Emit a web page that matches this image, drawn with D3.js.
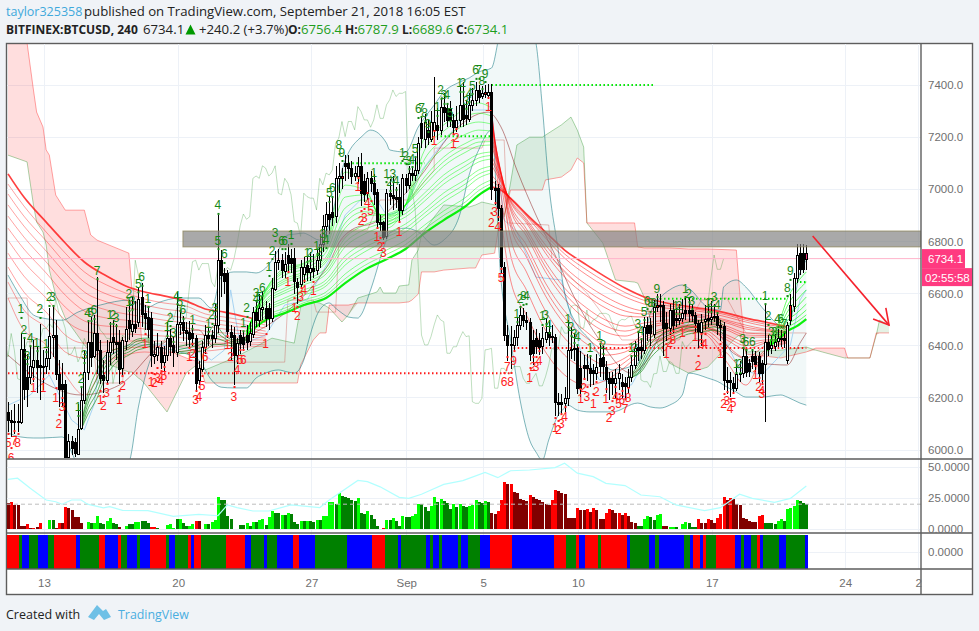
<!DOCTYPE html>
<html>
<head>
<meta charset="utf-8">
<script src="https://d3js.org/d3.v7.min.js"></script>
<style>
  html, body { margin: 0; padding: 0; background: #f0f3f7; }
  text { font-family: "Liberation Sans", Arial, sans-serif; }
  .head text { font-family: "Open Sans", "Noto Sans", sans-serif; font-size: 13.2px; fill: #222; }
  .axis text { font-size: 11.5px; fill: #6f6f6f; }
  .axis path, .axis line { display: none; }
</style>
</head>
<body>
<div id="my_dataviz"></div>
<script>

// candles, one row per 10 bars (4h bars)
var opens = [
  6146,6115,6113,6110,6108,6389,6281,6281,6322,6347,
  6325,6324,6319,6351,6437,6443,6293,6255,6255,5974,
  6035,6031,5987,6082,6191,6300,6415,6357,6447,6383,
  6287,6270,6377,6434,6415,6415,6313,6421,6498,6460,
  6485,6492,6588,6524,6511,6505,6364,6364,6396,6338,
  6364,6428,6402,6377,6485,6492,6460,6453,6447,6428,
  6268,6313,6396,6441,6441,6428,6479,6728,6680,6677,
  6453,6441,6364,6441,6434,6441,6415,6447,6530,6498,
  6543,6543,6543,6505,6620,6722,6728,6690,6747,6735,
  6735,6645,6639,6677,6709,6683,6700,6690,6730,6790,
  6860,6905,6914,6895,7042,7051,7100,7100,7081,7051,
  7051,7090,7030,6985,7042,7023,6991,6876,6876,6819,
  6985,6979,6972,6972,6921,7042,7017,7062,7055,7074,
  7253,7196,7228,7196,7228,7247,7228,7317,7311,7311,
  7266,7238,7266,7324,7285,7272,7324,7343,7381,7356,
  7375,7362,7375,7004,7004,6927,6703,6441,6408,6403,
  6435,6480,6518,6499,6492,6422,6428,6422,6396,6428,
  6454,6435,6435,6185,6185,6179,6198,6384,6386,6390,
  6313,6326,6326,6313,6307,6296,6352,6356,6320,6275,
  6275,6256,6275,6262,6256,6243,6281,6326,6396,6396,
  6386,6480,6480,6448,6550,6556,6556,6486,6467,6537,
  6505,6499,6505,6537,6537,6537,6518,6486,6454,6492,
  6505,6501,6509,6514,6480,6476,6269,6269,6258,6240,
  6292,6294,6361,6332,6361,6361,6361,6332,6332,6416,
  6390,6399,6416,6428,6428,6344,6499,6550,6658,6754,
  6754,6756.4];
var highs = [
  6185,6153,6178,6178,6447,6434,6370,6396,6421,6396,
  6485,6383,6389,6543,6549,6498,6345,6332,6268,6060,
  6055,6045,6178,6243,6383,6498,6511,6517,6664,6421,
  6345,6421,6492,6498,6485,6460,6434,6549,6575,6588,
  6570,6626,6639,6556,6550,6530,6420,6450,6420,6400,
  6490,6465,6434,6607,6530,6515,6490,6495,6480,6441,
  6340,6420,6480,6470,6460,6560,6901,6767,6700,6690,
  6480,6470,6430,6460,6455,6480,6490,6550,6570,6600,
  6610,6570,6565,6660,6765,6770,6750,6760,6790,6770,
  6775,6660,6730,6740,6745,6760,6750,6770,6830,6900,
  6950,6970,6970,7090,7100,7081,7130,7130,7110,7090,
  7125,7138,7060,7065,7070,7060,7000,6900,6880,7000,
  7040,7050,7010,7020,7060,7060,7090,7085,7120,7200,
  7280,7290,7265,7300,7432,7310,7350,7370,7330,7340,
  7290,7320,7400,7410,7340,7370,7390,7410,7400,7395,
  7400,7405,7405,7030,7020,6940,6720,6480,6475,6460,
  6510,6545,6545,6530,6505,6460,6465,6450,6470,6505,
  6500,6480,6445,6220,6215,6240,6500,6470,6450,6400,
  6380,6365,6370,6355,6330,6370,6410,6400,6340,6300,
  6300,6310,6330,6290,6280,6310,6360,6420,6450,6430,
  6510,6510,6505,6575,6600,6600,6570,6530,6560,6575,
  6545,6560,6580,6590,6585,6560,6530,6500,6520,6555,
  6560,6570,6560,6530,6500,6490,6320,6300,6280,6330,
  6340,6390,6380,6350,6385,6380,6375,6345,6555,6440,
  6440,6445,6465,6460,6455,6490,6600,6680,6790,6790,
  6790,6787.9];
var lows = [
  6070,6051,6063,6070,6101,6191,6165,6255,6262,6217,
  6191,6230,6293,6306,6357,6268,6165,6165,5968,5968,
  5980,5975,5980,6075,6178,6268,6319,6351,6293,6255,
  6217,6255,6325,6370,6345,6255,6281,6383,6421,6434,
  6450,6472,6472,6460,6430,6319,6330,6340,6310,6300,
  6340,6360,6319,6357,6440,6420,6400,6390,6400,6223,
  6250,6300,6370,6400,6390,6410,6447,6587,6600,6430,
  6340,6249,6330,6370,6380,6385,6400,6430,6470,6470,
  6500,6470,6460,6490,6610,6690,6660,6660,6680,6680,
  6600,6560,6620,6640,6650,6650,6660,6670,6700,6760,
  6820,6830,6860,6870,6985,7000,7030,7040,7020,7030,
  7020,6935,6950,6960,6990,6940,6850,6840,6805,6810,
  6940,6920,6930,6880,6900,6985,7000,7030,7030,7060,
  7160,7160,7170,7180,7200,7190,7210,7260,7240,7240,
  7210,7220,7240,7240,7245,7260,7300,7320,7330,7345,
  7350,7345,6960,6940,6880,6680,6420,6340,6310,6380,
  6400,6460,6470,6460,6340,6325,6370,6365,6370,6410,
  6400,6410,6130,6130,6135,6145,6170,6350,6340,6215,
  6205,6270,6265,6240,6250,6270,6280,6270,6220,6190,
  6210,6200,6230,6200,6190,6220,6260,6310,6340,6350,
  6370,6420,6400,6430,6530,6490,6360,6420,6440,6450,
  6470,6480,6490,6500,6490,6490,6450,6390,6400,6460,
  6470,6480,6490,6440,6420,6230,6215,6205,6215,6225,
  6260,6275,6280,6280,6310,6300,6260,6250,6108,6360,
  6370,6380,6395,6395,6390,6330,6480,6530,6640,6670,
  6680,6689.6];
var closes = [
  6115,6108,6108,6107,6389,6236,6236,6322,6347,6322,
  6319,6319,6351,6437,6443,6293,6236,6236,5974,6035,
  6010,5987,6082,6191,6300,6415,6357,6447,6383,6274,
  6268,6377,6415,6415,6409,6313,6421,6466,6466,6485,
  6470,6581,6524,6505,6466,6364,6370,6396,6338,6364,
  6428,6396,6377,6485,6492,6460,6447,6428,6428,6255,
  6313,6396,6441,6428,6428,6479,6728,6671,6650,6453,
  6434,6364,6409,6409,6409,6415,6447,6530,6498,6543,
  6549,6505,6505,6620,6722,6728,6690,6715,6715,6715,
  6645,6626,6703,6703,6683,6700,6690,6730,6790,6860,
  6905,6885,6895,7042,7051,7042,7090,7081,7051,7062,
  7090,6985,6979,7042,7023,6979,6876,6870,6819,6985,
  6972,6966,6966,6921,7042,7017,7062,7055,7074,7177,
  7196,7260,7202,7260,7260,7228,7317,7298,7266,7266,
  7238,7266,7324,7272,7272,7324,7343,7381,7356,7368,
  7368,7375,7004,6998,6927,6703,6441,6403,6403,6435,
  6480,6518,6499,6492,6371,6371,6396,6396,6428,6454,
  6435,6438,6185,6179,6179,6198,6384,6386,6390,6237,
  6237,6313,6313,6294,6294,6320,6320,6320,6275,6256,
  6256,6275,6294,6246,6246,6281,6326,6390,6384,6386,
  6473,6448,6448,6550,6556,6554,6467,6467,6537,6480,
  6499,6505,6524,6524,6524,6518,6486,6454,6492,6501,
  6499,6509,6514,6480,6473,6269,6262,6262,6240,6292,
  6294,6361,6301,6301,6340,6332,6294,6294,6416,6390,
  6403,6416,6428,6425,6422,6480,6556,6658,6748,6693,
  6693,6734.1];
var redBars = [105, 150, 204, 246];
var lastBar = 251;
var lastPrice = 6734.1;

// ichimoku cloud
var cloudBars = [0,6,8,9,11,12,13,15,18,24,26,28,38,39,41,42,44,50,56,60,62,71,83,90,91,92,96,98,100,101,105,107,110,116,117,118,122,123,126,127,129,130,134,137,145,147,149,153,154,156,158,160,164,168,169,174,177,179,181,182,187,188,191,197,198,200,204,208,214,220,229,230,232,243,251,254,256,263,264,271,273,274,277];
var spanA = [7131,7105,6940,6874,6836,6786,6690,6594,6506,6403,6376,6345,6299,6299,6276,6268,6238,6146,6295,6333,6307,6353,6429,6410,6479,6548,6568,6564,6552,6544,6491,6518,6583,6606,6625,6602,6602,6629,6633,6729,6767,6825,6894,6940,6932,6940,6951,6940,6928,6894,7024,7170,7200,7200,7208,7247,7277,7227,7162,6871,6794,6759,6652,6644,6640,6587,6410,6333,6295,6318,6433,6441,6376,6383,6395,6383,6376,6353,6353,6353,6441,6498,6479];
var spanB = [7649,7561,7381,7296,7239,7151,7131,6978,6920,6920,6825,6805,6755,6614,6602,6422,6414,6383,6353,6337,6257,6257,6257,6257,6257,6326,6422,6449,6449,6556,6556,6556,6564,6564,6564,6564,6564,6564,6568,6575,6598,6683,6683,6690,6698,6698,6748,6755,6832,6901,6997,6997,6997,6997,7036,7047,7074,7120,7101,6871,6871,6871,6871,6871,6779,6775,6775,6775,6771,6771,6767,6614,6368,6353,6376,6391,6391,6391,6353,6353,6449,6449,6449];

// bollinger bands
var bandBars = [0,4,8,11,17,22,29,38,41,44,47,54,60,64,67,71,75,78,81,85,88,90,93,94,98,101,103,105,107,110,111,114,119,120,125,129,134,137,142,145,148,152,155,158,161,164,166,168,170,173,175,176,179,183,190,198,202,205,208,212,214,220,224,225,229,232,237,243,245,249,251];
var bbUpper = [6671,6587,6518,6506,6498,6529,6556,6575,6564,6548,6564,6583,6583,6544,6663,6683,6683,6679,6698,6767,6825,6828,6832,6828,6805,6863,6959,7074,7139,7189,7200,7227,7177,7151,7143,7239,7323,7373,7411,7427,7450,7465,7611,7649,7688,7630,7561,7316,7024,6767,6602,6556,6479,6422,6307,6333,6525,6583,6614,6633,6621,6548,6537,6625,6652,6625,6548,6472,6460,6679,6729];
var bbLower = [6065,6050,6046,6046,6050,5942,5885,5954,6165,6318,6391,6376,6345,6268,6241,6238,6238,6276,6295,6307,6299,6295,6345,6395,6537,6564,6544,6525,6510,6506,6518,6614,6805,6832,6851,6836,6786,6805,6901,7055,7151,7227,6652,6422,6192,6038,5992,5961,6038,6134,6161,6172,6153,6146,6146,6180,6165,6161,6172,6211,6295,6276,6257,6249,6222,6203,6203,6211,6203,6180,6172];
var basisBars = [0,10,23,35,48,60,64,79,90,98,101,104,109,115,123,130,139,151,155,160,166,172,178,186,196,201,206,214,222,228,237,245,249,251];
var basis = [6364,6268,6211,6249,6403,6460,6403,6460,6556,6663,6717,6794,6851,6871,6959,7055,7208,7296,7239,7074,6901,6748,6587,6422,6295,6345,6449,6472,6460,6372,6333,6326,6410,6449];

// kijun / tenkan lines
var kijunBars = [0,6,7,27,28,36,37,60,61,87,88,96,97,103,104,108,113,117,126,134,134,149,150,156,157,170,171,182,193,211,218,226,232,251];
var kijun = [6583,6583,6391,6391,6257,6257,6403,6403,6337,6337,6575,6575,6529,6529,6794,6844,6844,6959,6959,7074,7158,7158,7189,7189,6871,6863,6736,6602,6422,6422,6575,6583,6449,6449];
var tenkanBars = [0,7,13,20,24,27,29,38,48,59,64,68,70,73,81,87,94,101,106,114,119,125,129,135,145,152,156,160,166,174,180,186,196,204,218,224,230,237,246,249,251];
var tenkan = [6172,6211,6288,6115,6077,6172,6345,6403,6403,6383,6345,6383,6614,6403,6441,6556,6575,6729,6901,6997,6901,6920,7055,7151,7304,7304,6882,6836,6663,6652,6383,6268,6249,6422,6518,6460,6307,6288,6403,6575,6614];
var chikouShift = 26;

// moving average ribbons, first row of each is the slowest one
var redRibbon1Bars = [0,5,12,18,24,31,37,43,49,56,62,68,75,81];
var redRibbon1 = [
  [7059,6970,6874,6794,6721,6667,6629,6606,6591,6571,6541,6529,6510,6491],
  [7020,6936,6836,6755,6683,6633,6602,6579,6564,6552,6522,6510,6495,6479],
  [6982,6897,6802,6717,6644,6598,6575,6556,6541,6529,6506,6495,6479,6468],
  [6940,6859,6763,6679,6606,6568,6548,6533,6518,6506,6491,6479,6468,6456],
  [6897,6817,6721,6637,6571,6537,6522,6510,6498,6487,6475,6464,6456,6445],
  [6851,6771,6679,6594,6533,6506,6498,6487,6475,6468,6456,6449,6445,6437],
  [6805,6721,6633,6548,6495,6475,6472,6464,6456,6449,6441,6433,6433,6429],
  [6755,6667,6583,6498,6456,6445,6445,6441,6437,6429,6426,6422,6422,6422],
  [6702,6606,6529,6441,6410,6414,6418,6418,6418,6410,6410,6410,6410,6414],
  [6644,6537,6468,6376,6353,6380,6391,6395,6395,6395,6395,6399,6403,6406],
  [6583,6460,6403,6288,6211,6337,6364,6376,6372,6380,6380,6387,6395,6399]];
var redRibbon2Bars = [152,155,158,163,169,175,182,188,194,200,207,213,219,226,232,238,245];
var redRibbon2 = [
  [7009,6997,6966,6905,6836,6767,6709,6663,6621,6587,6564,6552,6541,6525,6506,6491,6472],
  [7032,7005,6965,6901,6825,6752,6690,6644,6604,6574,6554,6545,6535,6518,6498,6483,6468],
  [7055,7012,6963,6897,6813,6736,6671,6625,6587,6560,6544,6537,6529,6510,6491,6475,6464],
  [7093,7028,6959,6886,6786,6702,6633,6587,6552,6533,6529,6525,6518,6498,6479,6464,6456],
  [7112,7036,6955,6879,6770,6682,6612,6565,6533,6522,6522,6520,6512,6493,6471,6460,6452],
  [7131,7043,6951,6871,6755,6663,6591,6544,6514,6510,6514,6514,6506,6487,6464,6456,6449],
  [7170,7055,6940,6848,6721,6621,6544,6498,6475,6487,6498,6502,6495,6475,6449,6445,6441],
  [7189,7060,6930,6835,6702,6600,6521,6475,6456,6475,6490,6496,6489,6467,6441,6439,6437],
  [7208,7066,6920,6821,6683,6579,6498,6452,6437,6464,6483,6491,6483,6460,6433,6433,6433],
  [7239,7066,6894,6786,6640,6533,6452,6406,6403,6441,6468,6479,6475,6441,6414,6422,6426],
  [7253,7060,6876,6763,6615,6508,6429,6385,6390,6432,6462,6475,6471,6432,6400,6416,6424],
  [7266,7055,6859,6740,6591,6483,6406,6364,6376,6422,6456,6472,6468,6422,6387,6410,6422],
  [7289,7028,6813,6683,6533,6429,6360,6326,6353,6406,6445,6464,6460,6399,6353,6399,6418],
  [7304,6978,6748,6614,6460,6364,6310,6295,6337,6395,6437,6460,6452,6372,6307,6383,6414],
  [7316,6901,6652,6518,6376,6288,6249,6268,6318,6383,6429,6456,6445,6337,6249,6376,6410]];
var greenRibbon1Bars = [75,81,87,93,100,106,112,119,125,131,137,144,148,152];
var greenRibbon1 = [
  [6441,6498,6525,6556,6583,6640,6690,6732,6771,6832,6882,6936,6978,7009],
  [6443,6506,6534,6565,6594,6657,6707,6750,6788,6848,6900,6953,6995,7022],
  [6445,6514,6544,6575,6606,6675,6725,6767,6805,6863,6917,6970,7012,7036],
  [6449,6529,6564,6594,6629,6709,6759,6802,6836,6894,6951,7005,7043,7062],
  [6450,6536,6573,6604,6640,6726,6776,6817,6851,6909,6968,7022,7058,7075],
  [6452,6544,6583,6614,6652,6744,6794,6832,6867,6924,6986,7039,7074,7089],
  [6456,6560,6602,6633,6675,6779,6828,6863,6894,6955,7020,7074,7105,7116],
  [6456,6567,6611,6642,6686,6796,6845,6876,6907,6970,7037,7091,7120,7130],
  [6456,6575,6621,6652,6698,6813,6863,6890,6920,6986,7055,7108,7135,7143],
  [6456,6587,6640,6667,6721,6851,6897,6905,6940,7016,7089,7143,7166,7170],
  [6456,6592,6648,6675,6730,6870,6914,6901,6940,7031,7106,7160,7181,7183],
  [6456,6598,6656,6683,6740,6890,6932,6897,6940,7047,7124,7177,7197,7197],
  [6452,6606,6671,6694,6759,6928,6959,6886,6940,7082,7158,7212,7227,7223],
  [6452,6610,6683,6706,6775,6970,6978,6874,6940,7116,7193,7247,7258,7250],
  [6449,6614,6690,6713,6786,7016,6997,6863,6940,7151,7223,7281,7292,7281],
  [6441,6614,6698,6717,6794,7066,7016,6851,6940,7197,7247,7312,7331,7312]];
var greenRibbon2Bars = [238,240,243,245,248,251];
var greenRibbon2 = [
  [6376,6403,6433,6456,6475,6502],
  [6376,6406,6441,6468,6491,6518],
  [6376,6410,6449,6479,6506,6537],
  [6376,6414,6456,6495,6525,6560],
  [6372,6418,6468,6510,6548,6587],
  [6372,6422,6479,6529,6575,6614],
  [6368,6426,6495,6552,6606,6644],
  [6364,6429,6510,6579,6640,6683]];
var darkRibbon1Bars = [23,25,28,30,33,35,38,40,43,45];
var darkRibbon1 = [
  [6096,6211,6307,6353,6383,6391,6403,6422,6429,6429],
  [6096,6192,6276,6330,6368,6383,6395,6414,6422,6422],
  [6084,6172,6249,6307,6353,6372,6387,6403,6414,6414],
  [6077,6153,6222,6284,6337,6360,6376,6391,6403,6406],
  [6077,6134,6199,6261,6322,6345,6364,6380,6391,6399]];
var darkRibbon2Bars = [53,56,59,62,65,68,71,75];
var darkRibbon2 = [
  [6395,6403,6410,6429,6479,6441,6422,6433],
  [6383,6391,6399,6414,6452,6429,6414,6429],
  [6376,6380,6387,6399,6429,6418,6406,6426],
  [6368,6372,6376,6383,6406,6403,6399,6422]];
var darkRibbon3Bars = [195,199,202,206,210,214,218,222,225];
var darkRibbon3 = [
  [6276,6345,6429,6460,6479,6491,6498,6506,6491],
  [6276,6330,6406,6445,6464,6479,6487,6495,6479],
  [6276,6318,6387,6429,6452,6468,6475,6483,6468],
  [6276,6307,6368,6414,6437,6456,6464,6472,6456],
  [6276,6299,6353,6399,6426,6445,6452,6460,6445]];

// support / resistance dots: [bar from, bar to, price]
var greenLevels = [[152,203,7400],[107,131,7100],[136,152,7203],[205,245,6580],[249,251,6644]];
var redLevels = [[0,158,6294],[159,251,6391]];
var zoneFromBar = 55;
var zoneToBar = 287;
var zoneTop = 6840;
var zoneBottom = 6779;
var arrowLine = [[253,6821],[277,6479]];
var arrowHead = [[276,6545],[277,6479],[272,6502]];

// TD sequential counts above the highs
var tdUpBar = [4,5,6,7,9,10,12,13,14,24,25,26,27,28,23,22,32,33,34,38,38,39,41,42,44,53,54,55,51,50,52,58,63,64,65,66,66,68,74,75,78,78,79,80,82,83,84,86,87,89,94,95,97,98,99,100,101,102,104,105,
  115,119,120,121,122,124,125,126,127,128,129,130,131,132,135,136,137,138,139,142,143,144,145,146,147,148,149,150,
  160,161,162,163,168,169,170,176,177,178,179,183,186,187,196,197,198,199,200,201,202,203,204,210,211,213,214,215,220,221,222,223,229,230,231,232,234,238,239,240,241,242,243,244,245,246];
var tdUpPrice = [6541,6464,6364,6433,6414,6541,6410,6587,6587,6368,6529,6529,6537,6690,6276,6165,6518,6518,6510,6568,6602,6572,6640,6664,6583,6594,6568,6537,6510,6472,6449,6499,6487,6518,6545,6940,6805,6752,6490,6545,6606,6583,6590,6625,6702,6767,6836,6805,6805,6825,6756,6759,6786,6763,6832,6809,6986,7005,7170,7143,
  7066,7062,7028,7062,7032,7143,7131,7112,7120,7158,7308,7312,7296,7254,7316,7381,7362,7362,7296,7408,7408,7342,7369,7400,7458,7458,7419,7446,
  6525,6583,6591,6594,6514,6518,6483,6506,6472,6445,6437,6395,6441,6403,6395,6395,6487,6460,6533,6575,6564,6564,6621,6556,6556,6621,6602,6575,6564,6564,6587,6560,6330,6330,6426,6418,6418,6594,6514,6456,6456,6506,6506,6487,6625,6687];
var tdUpText = ["1","2","3","4","1","2","1","2","3","3","4","5","6","7","2","1","1","2","3","1","2","3","5","6","1","4","5","6","2","1","3","1","1","2","3","4","5","6","1","2","3","4","5","6","1","2","3","6","6","1","1","2","1","2","3","4","5","6","8","9",
  "1","1","2","3","4","1","2","3","4","5","6","7","8","9","1","2","3","4","5","1","2","3","4","5","6","7","8","9",
  "1","2","8","4","1","3","4","1","2","3","4","1","1","2","1","2","3","4","5","6","8","8","9","1","2","1","2","3","1","2","3","4","1","2","3","6","6","1","2","3","3","4","6","7","8","9"];

// TD sequential counts below the lows
var tdDownBar = [0,2,3,1,8,11,15,16,17,29,30,31,35,36,43,45,46,47,48,49,57,58,59,60,61,62,69,70,71,72,73,74,81,88,90,91,92,93,96,110,111,112,113,114,116,117,118,123,134,140,141,151,152,153,154,155,156,157,158,159,
  164,165,166,167,172,173,174,175,180,181,182,184,185,188,189,190,191,192,193,194,195,207,208,209,212,216,217,218,219,224,225,226,227,228,235,236,237,237];
var tdDownPrice = [6027,6038,6027,5973,6238,6238,6203,6100,6165,6192,6169,6219,6192,6249,6410,6261,6257,6280,6268,6284,6357,6372,6192,6207,6249,6357,6403,6357,6207,6307,6349,6349,6410,6648,6548,6514,6587,6614,6610,7009,6882,6890,6951,6920,6817,6779,6759,6840,7189,7177,7197,7316,6874,6913,6859,6660,6261,6322,6261,6345,
  6280,6322,6322,6345,6088,6077,6103,6130,6199,6238,6207,6180,6226,6199,6126,6153,6207,6180,6192,6161,6203,6372,6414,6422,6452,6437,6326,6410,6410,6372,6180,6188,6161,6184,6288,6242,6230,6218];
var tdDownText = ["5","7","8","6","1","1","1","2","3","1","2","3","1","2","1","1","2","3","4","5","1","2","3","4","5","6","1","2","3","4","5","6","1","1","1","2","3","4","1","1","2","3","4","5","1","2","3","1","1","1","2","1","2","3","4","5","6","7","8","9",
  "1","2","3","4","1","2","3","4","1","2","3","1","2","1","2","3","4","5","6","7","8","1","2","8","1","1","2","3","4","1","2","3","4","5","1","2","4","3"];

// lower panes
var histValues = [
  20.7,21.8,19.4,19.4,2.7,2.7,4,1,1,1.9,
  4.8,0,0,7.3,7.3,1,4.8,4.8,17.5,16.7,
  15.6,9.9,9.9,4.6,0,5.4,4.8,4.8,10.2,4.6,
  3.8,6.5,8.6,4.6,3.8,1.6,0,2.4,3.8,3.8,
  5.6,5.6,6.5,6.2,4.8,1.6,1.6,.5,0,0,
  3.2,3.8,.5,8,8,4.6,2.2,2.7,3.8,6.5,
  6.5,0,3.8,3.8,5.9,7.3,25.8,23.7,23.1,10.8,
  8,0,0,3.2,3.2,4.8,2.4,5.6,5.9,7.3,
  8,3.2,9.9,14.5,12.9,12.6,11.3,11.3,12.9,11.8,
  5.9,3.8,6.7,6.5,6.5,6.5,5.9,7.3,7.3,10.5,
  10.5,21.5,21.5,20.2,29,26.9,26.1,24.7,23.4,22.8,
  25,12.6,12.1,14.5,11.3,8,2.4,0,.8,7.3,
  7.3,8.9,6.7,2.7,10.5,9.9,9.9,10.5,12.4,19.9,
  19.9,17.5,14.5,18.5,25.8,21.5,24.2,22.3,20.7,16.1,
  19.9,18,19.9,18.5,18,18.5,19.4,23.4,21.8,20.7,
  22.6,21.8,12.9,12.1,14.5,23.4,37.9,36.3,36.3,29.8,
  29,24.2,23.4,22.6,27.4,25.8,24.2,23.4,21.8,19.9,
  19.4,23.4,31.5,30.6,29,28.5,8.9,8.9,8.9,16.9,
  15.3,15.3,16.1,13.7,16.9,15.3,8,8,12.9,16.1,
  15.3,12.9,12.9,11.3,12.9,10.5,5.6,4.8,2.4,2.4,
  8,10.5,9.7,7.3,11.3,12.1,2.4,2.4,1.6,1.6,
  1.6,0,4,5.6,4.8,1.6,1.6,8,4.8,4.8,
  8,7.3,4.8,8.9,12.1,25.8,23.4,25,24.2,20.2,
  19.6,8.9,8,6.5,5.6,5.6,10.5,11,4.8,4.8,
  4.8,4,6.5,8,6.5,16.1,16.9,18.5,23.4,22.3,
  21,20.2];
// r rising red, m falling red, l rising green, g falling green
var histState = "mrmmmmrmrm" + "rmmlgmrmrm" + "mmmmmlgllg" + "gllggmmlgg" + "llgggrrggg" +
  "lllglggllr" + "mllglllggg" + "ggggglglgl" + "lgllgglglg" + "gglglgglgl" +
  "lllglggggg" + "lgglggggrl" + "glgglgglll" + "gggllglggg" + "lglgglllgg" +
  "lgmmrrrmrm" + "mmmmrmmmmm" + "mrrmmmmmmr" + "mmrmrmmmrr" + "mmrmrmmmgg" +
  "llggllmmll" + "ggllgggrmm" + "rmmrrrmrmm" + "mmmmmmrrgg" + "ggllgllllg" + "gg";
var histLevel = 20;
var adxBars = [0,3,7,12,15,17,20,23,25,30,32,36,44,52,60,66,69,72,77,82,89,98,101,110,113,117,123,126,130,133,137,143,150,154,158,164,172,175,179,184,188,194,199,205,210,219,224,230,234,241,246,251];
var adxValues = [40,41,32.8,23.4,22,20,23.4,23.4,20,17,18,15,14.8,10.2,11.8,10.7,19.4,17.2,14.5,14.5,19.4,17.2,23.4,39.2,38.2,34,25.5,24.7,28,31.5,36,39,45.7,41.4,47,47.6,49.5,53,45,42.2,36.8,35,27.4,26,19.4,14.8,17.2,28,24.7,21.5,24.7,34.7];
var bandStates = ["r","g","b","g","b","g","r","b","g","r","b","r","g","b","g","b","r","g","b","g","r","b","r","g","r","b","g","b","g","b","r","b","g","b","r","g","b",
  "g","b","g","b","g","b","g","b","g","b","r","b","r","g","r","b","r","g","r","b","g","b","g","b","g","b","r","b","r","g","r","b","g","b","g","r","b","g","b","g","b"];
var bandRuns = [4,1,2,3,3,2,7,1,6,2,4,1,2,3,1,3,5,1,2,4,1,1,2,8,6,2,4,1,3,5,2,5,10,8,4,4,1,
  8,1,1,2,1,5,1,2,4,3,7,13,4,3,1,2,4,1,8,1,6,2,1,8,2,1,2,1,1,3,6,2,1,2,2,1,1,5,2,6,1];

// axes
var priceTicks = [7400,7200,7000,6800,6600,6400,6200,6000];
var histTicks = [50,25,0];
var bandTicks = [0];
var timeTickBars = [11.3,53.5,95.4,125.2,149.4,179.2,221.3,263.2,286.2];
var timeTickLabels = ["13","20","27","Sep","5","10","17","24","2"];

var W = 979, H = 631;
var chartLeft = 7, chartRight = 972, axisX = 921, chartTop = 44, chartBottom = 594;
var mainBottom = 459, histBottom = 533, bandBottom = 569;

var svg = d3.select("#my_dataviz").append("svg")
  .attr("width", W).attr("height", H).style("display", "block");

// scales
var x = d3.scaleLinear().domain([0, 286.9]).range([8, 920.5]);
var y = d3.scaleLinear().domain([7400, 6000]).range([85, 450]);
var yHist = d3.scaleLinear().domain([50, 0]).range([467, 529]);
var yBand = d3.scaleLinear().domain([1, -1]).range([535, 569]);

var defs = svg.append("defs");
defs.append("clipPath").attr("id", "mainClip").append("rect")
  .attr("x", chartLeft).attr("y", chartTop).attr("width", axisX - chartLeft).attr("height", mainBottom - chartTop);

// header
var head = svg.append("g").attr("class", "head");
head.append("text").attr("x", 6).attr("y", 16).style("fill", "#3fa9dc").style("font-size", "12.5px").text("taylor325358");
head.append("text").attr("x", 84).attr("y", 16).text("published on TradingView.com, September 21, 2018 16:05 EST");
head.append("text").attr("x", 6).attr("y", 34).style("font-weight", "bold").style("font-size", "12px").text("BITFINEX:BTCUSD, 240");
head.append("text").attr("x", 143).attr("y", 34).text("6734.1");
head.append("path").attr("d", "M185.5,34.5L190.5,24.5L195.5,34.5Z").attr("fill", "#009900");
head.append("text").attr("x", 199).attr("y", 34).text("+240.2 (+3.7%)");
var ohlcNames = ["O:", "H:", "L:", "C:"];
var ohlcValues = ["6756.4", "6787.9", "6689.6", "6734.1"];
var ohlcX = [288, 345, 402, 456];
ohlcNames.forEach(function(n, i) {
  var t = head.append("text").attr("x", ohlcX[i]).attr("y", 34);
  t.append("tspan").style("font-weight", "bold").style("font-size", "12px").text(n);
  t.append("tspan").style("fill", "#1e9e1e").text(ohlcValues[i]);
});

// chart background
svg.append("rect").attr("x", chartLeft - .5).attr("y", chartTop - .5)
  .attr("width", chartRight - chartLeft + 1).attr("height", chartBottom - chartTop + 1)
  .attr("fill", "#fff").attr("stroke", "#5d5d5d").attr("stroke-width", 1.4);

// grid
var grid = svg.append("g").attr("stroke", "#edf1f7").attr("stroke-width", 1).attr("shape-rendering", "crispEdges");
timeTickBars.forEach(function(b) {
  grid.append("line").attr("x1", Math.round(x(b)) + .5).attr("x2", Math.round(x(b)) + .5)
    .attr("y1", chartTop).attr("y2", bandBottom);
});
priceTicks.forEach(function(p) {
  grid.append("line").attr("x1", chartLeft).attr("x2", axisX).attr("y1", y(p)).attr("y2", y(p));
});
histTicks.forEach(function(p) {
  grid.append("line").attr("x1", chartLeft).attr("x2", axisX).attr("y1", yHist(p)).attr("y2", yHist(p));
});
grid.append("line").attr("x1", chartLeft).attr("x2", axisX).attr("y1", yBand(0)).attr("y2", yBand(0));

// main pane
var main = svg.append("g").attr("clip-path", "url(#mainClip)");

function rows(bars, a, b) {
  return bars.map(function(d, i) { return {bar: d, a: a[i], b: b ? b[i] : a[i]}; });
}
function drawLine(g, bars, values, color, width, curve) {
  var line = d3.line().x(function(d) { return x(d.bar); }).y(function(d) { return y(d.a); });
  if (curve) line.curve(curve);
  g.append("path").datum(rows(bars, values))
    .attr("d", line).attr("fill", "none").attr("stroke", color).attr("stroke-width", width);
}

// cloud fills
var cloud = rows(cloudBars, spanA, spanB);
main.append("path").datum(cloud).attr("fill", "#ff0000").attr("fill-opacity", .13)
  .attr("d", d3.area().x(function(d) { return x(d.bar); })
    .y0(function(d) { return y(d.b); })
    .y1(function(d) { return y(Math.min(d.a, d.b)); }));
main.append("path").datum(cloud).attr("fill", "#008000").attr("fill-opacity", .1)
  .attr("d", d3.area().x(function(d) { return x(d.bar); })
    .y0(function(d) { return y(d.a); })
    .y1(function(d) { return y(Math.min(d.a, d.b)); }));

// bollinger fill
main.append("path").datum(rows(bandBars, bbUpper, bbLower)).attr("fill", "#008080").attr("fill-opacity", .055)
  .attr("d", d3.area().curve(d3.curveMonotoneX).x(function(d) { return x(d.bar); })
    .y0(function(d) { return y(d.a); }).y1(function(d) { return y(d.b); }));

drawLine(main, cloudBars, spanA, "rgba(0,128,0,.32)", 1);
drawLine(main, cloudBars, spanB, "rgba(255,0,0,.35)", 1);
drawLine(main, kijunBars, kijun, "rgba(200,70,60,.35)", 1);
drawLine(main, tenkanBars, tenkan, "#a6d3f2", 1);
var chikouBars = closes.map(function(c, i) { return i - chikouShift; });
drawLine(main, chikouBars, closes, "rgba(0,128,0,.25)", 1);
drawLine(main, bandBars, bbUpper, "rgba(0,110,120,.5)", 1, d3.curveMonotoneX);
drawLine(main, bandBars, bbLower, "rgba(0,110,120,.5)", 1, d3.curveMonotoneX);
drawLine(main, basisBars, basis, "rgba(128,0,0,.45)", 1, d3.curveMonotoneX);

// ribbons
function drawRibbon(bars, lines, color, width, slowWidth, slowColor) {
  lines.forEach(function(r, i) {
    drawLine(main, bars, r, i == 0 ? slowColor : color, i == 0 ? slowWidth : width, d3.curveMonotoneX);
  });
}
drawRibbon(redRibbon1Bars, redRibbon1, "rgba(255,0,0,.36)", 1, 1.7, "rgba(255,30,30,.85)");
drawRibbon(redRibbon2Bars, redRibbon2, "rgba(255,0,0,.45)", 1, 1.7, "rgba(255,30,30,.85)");
drawRibbon(greenRibbon1Bars, greenRibbon1, "rgba(0,255,0,.45)", 1, 2.2, "rgba(0,240,0,.95)");
drawRibbon(greenRibbon2Bars, greenRibbon2, "rgba(0,255,0,.6)", 1, 2.2, "rgba(0,240,0,.95)");
drawRibbon(darkRibbon1Bars, darkRibbon1, "rgba(0,128,0,.6)", 1, 1, "rgba(0,128,0,.6)");
drawRibbon(darkRibbon2Bars, darkRibbon2, "rgba(0,128,0,.6)", 1, 1, "rgba(0,128,0,.6)");
drawRibbon(darkRibbon3Bars, darkRibbon3, "rgba(0,128,0,.6)", 1, 1, "rgba(0,128,0,.6)");

// last price line
main.append("line").attr("x1", chartLeft).attr("x2", axisX)
  .attr("y1", y(lastPrice)).attr("y2", y(lastPrice)).attr("stroke", "#ffb3cb").attr("stroke-width", 1);

// dotted levels
function drawLevels(levels, color) {
  main.selectAll(null).data(levels).enter().append("line")
    .attr("x1", function(d) { return x(d[0]); }).attr("x2", function(d) { return x(d[1]); })
    .attr("y1", function(d) { return y(d[2]); }).attr("y2", function(d) { return y(d[2]); })
    .attr("stroke", color).attr("stroke-width", 2).attr("stroke-dasharray", "1.5 2.5");
}
drawLevels(greenLevels, "#00e600");
drawLevels(redLevels, "#ff1a1a");

// candles
var candles = d3.range(closes.length);
var candleG = main.append("g").attr("shape-rendering", "crispEdges");
candleG.selectAll(".wick").data(candles).enter().append("rect").attr("class", "wick")
  .attr("x", function(i) { return Math.round(x(i)); }).attr("width", 1)
  .attr("y", function(i) { return y(highs[i]); })
  .attr("height", function(i) { return y(lows[i]) - y(highs[i]); })
  .attr("fill", "#000");
candleG.selectAll(".body").data(candles).enter().append("rect").attr("class", "body")
  .attr("x", function(i) { return Math.round(x(i)) - .5; }).attr("width", 2)
  .attr("y", function(i) { return Math.round(y(Math.max(opens[i], closes[i]))) + .5; })
  .attr("height", function(i) { return Math.max(1, Math.round(Math.abs(y(opens[i]) - y(closes[i])))); })
  .attr("stroke", "#000").attr("stroke-width", 1)
  .attr("fill", function(i) {
    if (i == lastBar) return "#f0357f";
    if (redBars.indexOf(i) >= 0) return "#ff0000";
    return closes[i] >= opens[i] ? "#fff" : "#000";
  });

// resistance zone
main.append("rect").attr("x", x(zoneFromBar)).attr("width", x(zoneToBar) - x(zoneFromBar))
  .attr("y", y(zoneTop)).attr("height", y(zoneBottom) - y(zoneTop))
  .attr("fill", "#808080").attr("fill-opacity", .68)
  .attr("stroke", "#8a8050").attr("stroke-opacity", .7).attr("stroke-width", 1);

// TD counts
function drawCounts(bars, prices, texts, color, dotOffset) {
  var g = main.append("g");
  g.selectAll("text").data(bars).enter().append("text")
    .attr("x", function(d) { return x(d); })
    .attr("y", function(d, i) { return y(prices[i]) + 4.5; })
    .attr("text-anchor", "middle").attr("font-size", "12px").attr("fill", color)
    .text(function(d, i) { return texts[i]; });
  g.selectAll("rect").data(bars).enter().append("rect")
    .attr("x", function(d) { return Math.round(x(d)) - .5; })
    .attr("y", function(d, i) { return y(prices[i]) + dotOffset; })
    .attr("width", 2).attr("height", 2).attr("fill", color);
}
drawCounts(tdUpBar, tdUpPrice, tdUpText, "#178a17", 8);
drawCounts(tdDownBar, tdDownPrice, tdDownText, "#ff1c1c", -10);

// arrow drawing
var lineXY = d3.line().x(function(d) { return x(d[0]); }).y(function(d) { return y(d[1]); });
main.append("path").attr("d", lineXY(arrowLine)).attr("fill", "none").attr("stroke", "#f5222d").attr("stroke-width", 1.6);
main.append("path").attr("d", lineXY(arrowHead)).attr("fill", "none").attr("stroke", "#f5222d").attr("stroke-width", 1.6);

// histogram pane
var stateColor = {r: "#ff0000", m: "#800000", l: "#00ff00", g: "#008000"};
var hist = svg.append("g").attr("shape-rendering", "crispEdges");
hist.selectAll("rect").data(histValues).enter().append("rect")
  .attr("x", function(d, i) { return Math.round(x(i)) - 1; })
  .attr("width", 3)
  .attr("y", function(d) { return yHist(d); })
  .attr("height", function(d) { return yHist(0) - yHist(d); })
  .attr("fill", function(d, i) { return stateColor[histState.charAt(i)]; });
svg.append("line").attr("x1", chartLeft).attr("x2", axisX)
  .attr("y1", yHist(histLevel)).attr("y2", yHist(histLevel))
  .attr("stroke", "#bdbdbd").attr("stroke-dasharray", "4 3");
svg.append("path").datum(rows(adxBars, adxValues))
  .attr("d", d3.line().x(function(d) { return x(d.bar); }).y(function(d) { return yHist(d.a); }))
  .attr("fill", "none").attr("stroke", "#b2ffff").attr("stroke-width", 1.2);

// state band pane
var bandColor = {r: "#ff0000", g: "#008000", b: "#0000ff"};
var start = 0;
var cells = bandRuns.map(function(n, i) {
  var c = {from: start, to: start + n, state: bandStates[i]};
  start += n;
  return c;
});
svg.append("g").attr("shape-rendering", "crispEdges").selectAll("rect").data(cells).enter().append("rect")
  .attr("x", function(d) { return x(d.from) - 1.5; })
  .attr("width", function(d) { return x(d.to) - x(d.from); })
  .attr("y", yBand(1)).attr("height", yBand(-1) - yBand(1))
  .attr("fill", function(d) { return bandColor[d.state]; });

// pane borders
var borders = svg.append("g").attr("stroke", "#5d5d5d").attr("stroke-width", 1.4);
[mainBottom, histBottom, bandBottom].forEach(function(v) {
  borders.append("line").attr("x1", chartLeft).attr("x2", chartRight).attr("y1", v).attr("y2", v);
});
borders.append("line").attr("x1", axisX).attr("x2", axisX).attr("y1", chartTop).attr("y2", chartBottom);

// axes
svg.append("g").attr("class", "axis").attr("transform", "translate(" + axisX + ",0)")
  .call(d3.axisRight(y).tickValues(priceTicks).tickFormat(d3.format(".1f")).tickSize(0).tickPadding(7));
svg.append("g").attr("class", "axis").attr("transform", "translate(" + axisX + ",0)")
  .call(d3.axisRight(yHist).tickValues(histTicks).tickFormat(d3.format(".4f")).tickSize(0).tickPadding(7));
svg.append("g").attr("class", "axis").attr("transform", "translate(" + axisX + ",0)")
  .call(d3.axisRight(yBand).tickValues(bandTicks).tickFormat(d3.format(".4f")).tickSize(0).tickPadding(7));
svg.append("g").attr("class", "axis").attr("transform", "translate(0," + bandBottom + ")")
  .call(d3.axisBottom(x).tickValues(timeTickBars)
    .tickFormat(function(d, i) { return timeTickLabels[i]; }).tickSize(0).tickPadding(10));

// last price tags
svg.append("rect").attr("x", axisX + 1).attr("y", y(lastPrice) - 9.5).attr("width", 43).attr("height", 19).attr("fill", "#ff3a80");
svg.append("text").attr("x", axisX + 7).attr("y", y(lastPrice) + 4).attr("font-size", "11.5px").attr("fill", "#fff").text("6734.1");
svg.append("rect").attr("x", axisX + 1).attr("y", y(lastPrice) + 9.5).attr("width", 50).attr("height", 18).attr("fill", "#ff3a80");
svg.append("text").attr("x", axisX + 4).attr("y", y(lastPrice) + 23).attr("font-size", "11.5px").attr("fill", "#fff").text("02:55:58");

// footer
var foot = svg.append("g").attr("class", "head");
foot.append("text").attr("x", 6).attr("y", 619).style("font-size", "12.5px").text("Created with");
foot.append("path").attr("d", "M88,617L97,605L103,611L106,609L111,617L104,620L99,614L94,620Z").attr("fill", "#6fc0e6");
foot.append("text").attr("x", 118).attr("y", 619).style("font-size", "12.4px").style("fill", "#4aaee0").text("TradingView");

</script>
</body>
</html>
